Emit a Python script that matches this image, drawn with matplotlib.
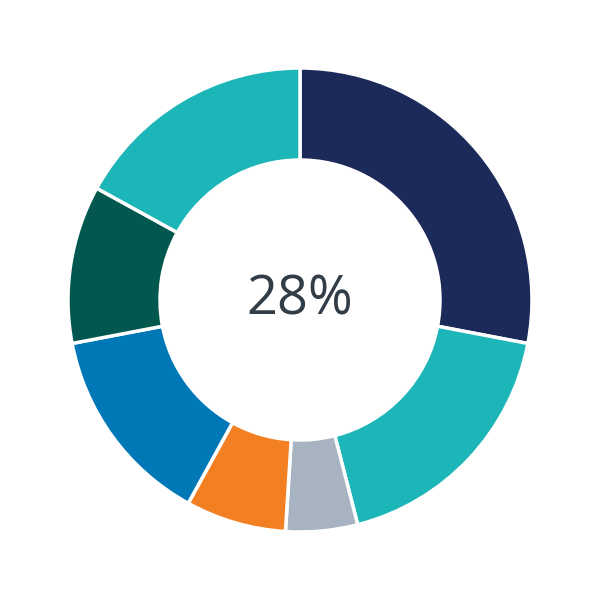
import matplotlib.pyplot as plt

# slice shares, clockwise from 12 o'clock
shares = [28, 18, 5, 7, 14, 11, 17]
colors = ['#1c2a5a', '#1cb5b8', '#a8b3c1', '#f28022', '#0077b6', '#02574f', '#1cb5b8']
center_label = '28%'

fig = plt.figure(figsize=(6, 6), dpi=100)
ax = fig.add_axes([0, 0, 1, 1])

ax.pie(shares, colors=colors, startangle=90, counterclock=False,
       radius=2.32, wedgeprops=dict(width=0.92, edgecolor='white', linewidth=2.5))

ax.text(0, 0, center_label, ha='center', va='center', fontsize=39,
        color='#333d47', family=['Open Sans', 'DejaVu Sans'])

ax.set_xlim(-3, 3)
ax.set_ylim(-3, 3)
ax.set_aspect('equal')
ax.axis('off')

fig.savefig('out.png', dpi=100, facecolor='white')
